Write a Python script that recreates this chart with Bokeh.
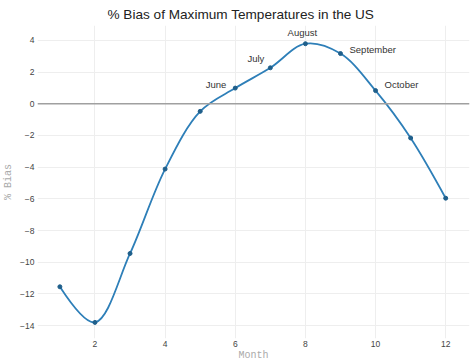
import numpy as np
from bokeh.plotting import figure
from bokeh.models import Range1d, Span, ColumnDataSource, FixedTicker
from bokeh.embed import file_html
from bokeh.resources import INLINE
from bokeh.core.properties import value

# ---- data ----
months = [1, 2, 3, 4, 5, 6, 7, 8, 9, 10, 11, 12]
bias = [-11.55, -13.8, -9.45, -4.12, -0.48, 0.99, 2.27, 3.79, 3.17, 0.83, -2.16, -5.96]
label_months = [6, 7, 8, 9, 10]
label_names = ["June", "July", "August", "September", "October"]
x_ticks = [2, 4, 6, 8, 10, 12]
y_ticks = [-14, -12, -10, -8, -6, -4, -2, 0, 2, 4]

LINE = "#2e7fb8"

p = figure(width=474, height=363, output_backend="svg", toolbar_location=None,
           x_range=Range1d(0.362, 12.678), y_range=Range1d(-14.815, 4.94),
           min_border_left=33, min_border_right=5, min_border_top=25, min_border_bottom=22)
p.title.text = "% Bias of Maximum Temperatures in the US"
p.title.align = "left"
p.title.offset = 70
p.title.text_font = "Liberation Sans"
p.title.text_font_size = "13.6px"
p.title.text_font_style = "normal"
p.title.text_color = "#222222"
p.title.standoff = 8

p.outline_line_color = None
p.background_fill_color = "white"
p.border_fill_color = "white"

for ax in (p.xaxis[0], p.yaxis[0]):
    ax.axis_line_color = None
    ax.major_tick_line_color = None
    ax.minor_tick_line_color = None
    ax.major_tick_out = 0
    ax.major_tick_in = 0
    ax.major_label_text_font = "Liberation Sans"
    ax.major_label_text_font_size = "8.5px"
    ax.major_label_text_color = "#444444"
    ax.axis_label_text_font = "Liberation Mono"
    ax.axis_label_text_font_size = "10px"
    ax.axis_label_text_font_style = "normal"
    ax.axis_label_text_color = "#aaaaaa"

p.xaxis.major_label_standoff = 2
p.xaxis.axis_label_standoff = 0
p.yaxis.major_label_standoff = 3
p.yaxis.axis_label_standoff = 3

p.xaxis.axis_label = "Month"
p.yaxis.axis_label = "% Bias"
p.xaxis.ticker = FixedTicker(ticks=x_ticks)
p.yaxis.ticker = FixedTicker(ticks=y_ticks)
p.yaxis.major_label_overrides = {t: (str(t).replace("-", "\u2212")) for t in y_ticks}
p.xgrid.ticker = FixedTicker(ticks=x_ticks)
p.ygrid.ticker = FixedTicker(ticks=y_ticks)
p.xgrid.grid_line_color = "#eeeeee"
p.ygrid.grid_line_color = "#eeeeee"

p.add_layout(Span(location=0, dimension="width", line_color="#a0a0a0", line_width=1.5))

# ---- plotly-style spline (computed in approximate pixel space) ----
sx, sy = 35.4, 15.9
pts = [(m * sx, b * sy) for m, b in zip(months, bias)]

def tangent(prev, this, nxt, s=1.0):
    d1x, d1y = prev[0] - this[0], prev[1] - this[1]
    d2x, d2y = nxt[0] - this[0], nxt[1] - this[1]
    d1a = (d1x * d1x + d1y * d1y) ** 0.25
    d2a = (d2x * d2x + d2y * d2y) ** 0.25
    numx = (d2a * d2a * d1x - d1a * d1a * d2x) * s
    numy = (d2a * d2a * d1y - d1a * d1a * d2y) * s
    den1 = 3 * d2a * (d1a + d2a)
    den2 = 3 * d1a * (d1a + d2a)
    back = (this[0] + numx / den1, this[1] + numy / den1)
    fwd = (this[0] - numx / den2, this[1] - numy / den2)
    return back, fwd

def quad_to_cubic(p0, c, p1):
    return (p0, p1, (p0[0] + 2 / 3 * (c[0] - p0[0]), p0[1] + 2 / 3 * (c[1] - p0[1])),
            (p1[0] + 2 / 3 * (c[0] - p1[0]), p1[1] + 2 / 3 * (c[1] - p1[1])))

tans = [tangent(pts[i - 1], pts[i], pts[i + 1]) for i in range(1, len(pts) - 1)]
segs = [quad_to_cubic(pts[0], tans[0][0], pts[1])]
for i in range(2, len(pts) - 1):
    segs.append((pts[i - 1], pts[i], tans[i - 2][1], tans[i - 1][0]))
segs.append(quad_to_cubic(pts[-2], tans[-1][1], pts[-1]))

bz = ColumnDataSource(dict(
    x0=[s[0][0] / sx for s in segs], y0=[s[0][1] / sy for s in segs],
    x1=[s[1][0] / sx for s in segs], y1=[s[1][1] / sy for s in segs],
    cx0=[s[2][0] / sx for s in segs], cy0=[s[2][1] / sy for s in segs],
    cx1=[s[3][0] / sx for s in segs], cy1=[s[3][1] / sy for s in segs],
))
p.bezier(x0="x0", y0="y0", x1="x1", y1="y1", cx0="cx0", cy0="cy0", cx1="cx1", cy1="cy1",
         source=bz, line_color=LINE, line_width=1.8)

p.scatter(months, bias, size=4, color="#1f5f8b")

# ---- month labels ----
lab_y = [bias[months.index(m)] for m in label_months]
lab = ColumnDataSource(dict(
    x=label_months, y=lab_y, text=label_names,
    align=["right", "right", "center", "left", "left"],
    xo=[-9, -6, -3, 9, 9],
    yo=[-3.5, -9, -11, -4, -6],
))
p.text(x="x", y="y", text="text", source=lab, x_offset="xo", y_offset="yo",
       text_align="align", text_baseline="middle",
       text_font=value("Liberation Sans"), text_font_size="9.5px", text_color="#333333")

open("out.html", "w").write(file_html(p, INLINE))
